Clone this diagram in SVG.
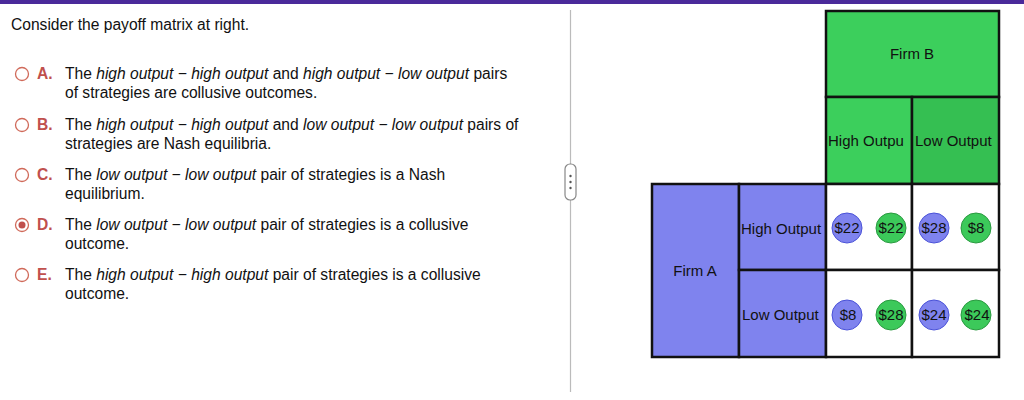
<svg xmlns="http://www.w3.org/2000/svg" width="1024" height="400" viewBox="0 0 1024 400">
<style>
text{font-family:"Liberation Sans",Arial,sans-serif;font-size:15.6px;fill:#111}
.m{font-size:15px}
.l{fill:#c0504d;font-weight:bold}
.rb{fill:#fff;stroke:#d06a5a;stroke-width:1.3}
.box{stroke:#111;stroke-width:2.5}
.pb{fill:#7f83ee;stroke:#4a52d8;stroke-width:1}
.pg{fill:#3cc95a;stroke:#2a9a40;stroke-width:1}
.c{text-anchor:middle}
</style>
<rect x="0" y="0" width="1024" height="4" fill="#4a2a9a"/>
<line x1="570.5" y1="10" x2="570.5" y2="392" stroke="#bbb" stroke-width="1.2"/>
<rect x="565" y="164" width="11" height="36" rx="5" fill="#fff" stroke="#888" stroke-width="1.2"/>
<circle cx="570.5" cy="176" r="1.2" fill="#555"/><circle cx="570.5" cy="182" r="1.2" fill="#555"/><circle cx="570.5" cy="188" r="1.2" fill="#555"/>
<g id="question">
<text x="11" y="30">Consider the payoff matrix at right.</text>
<circle class="rb" cx="22" cy="74" r="6.5"/><text class="l" x="37" y="79">A.</text>
<text x="65" y="79">The <tspan font-style="italic">high output − high output</tspan> and <tspan font-style="italic">high output − low output</tspan> pairs</text>
<text x="65" y="98">of strategies are collusive outcomes.</text>
<circle class="rb" cx="22" cy="125" r="6.5"/><text class="l" x="37" y="130">B.</text>
<text x="65" y="130">The <tspan font-style="italic">high output − high output</tspan> and <tspan font-style="italic">low output − low output</tspan> pairs of</text>
<text x="65" y="149">strategies are Nash equilibria.</text>
<circle class="rb" cx="22" cy="175" r="6.5"/><text class="l" x="37" y="180">C.</text>
<text x="65" y="180">The <tspan font-style="italic">low output − low output</tspan> pair of strategies is a Nash</text>
<text x="65" y="199">equilibrium.</text>
<circle class="rb" cx="22" cy="225" r="6.5"/><circle cx="22" cy="225" r="3.5" fill="#c0504d"/><text class="l" x="37" y="230">D.</text>
<text x="65" y="230">The <tspan font-style="italic">low output − low output</tspan> pair of strategies is a collusive</text>
<text x="65" y="249">outcome.</text>
<circle class="rb" cx="22" cy="275" r="6.5"/><text class="l" x="37" y="280">E.</text>
<text x="65" y="280">The <tspan font-style="italic">high output − high output</tspan> pair of strategies is a collusive</text>
<text x="65" y="299">outcome.</text>
</g>
<g id="firmB"><rect class="box" x="826" y="11" width="173" height="86" fill="#3ccf5c"/><text class="c m" x="912" y="59">Firm B</text></g>
<g id="bHigh"><rect class="box" x="826" y="97" width="86" height="87" fill="#3ccf5c"/><text class="m" x="828" y="146">High Outpu</text></g>
<g id="bLow"><rect class="box" x="912" y="97" width="87" height="87" fill="#35bf52"/><text class="m" x="915" y="146">Low Output</text></g>
<g id="firmA"><rect class="box" x="652" y="184" width="87" height="173" fill="#7f83ee"/><text class="c m" x="695" y="276">Firm A</text></g>
<g id="aHigh"><rect class="box" x="739" y="184" width="87" height="86" fill="#7f83ee"/><text class="m" x="741" y="234">High Output</text></g>
<g id="aLow"><rect class="box" x="739" y="270" width="87" height="87" fill="#7f83ee"/><text class="m" x="742" y="320">Low Output</text></g>
<g id="cellHH"><rect class="box" x="826" y="184" width="86" height="86" fill="#fff"/>
<circle class="pb" cx="847" cy="228" r="15"/><text class="c m" x="847" y="233">$22</text>
<circle class="pg" cx="891" cy="228" r="15"/><text class="c m" x="891" y="233">$22</text></g>
<g id="cellHL"><rect class="box" x="912" y="184" width="87" height="86" fill="#fff"/>
<circle class="pb" cx="934" cy="228" r="15"/><text class="c m" x="934" y="233">$28</text>
<circle class="pg" cx="976" cy="228" r="15"/><text class="c m" x="976" y="233">$8</text></g>
<g id="cellLH"><rect class="box" x="826" y="270" width="86" height="87" fill="#fff"/>
<circle class="pb" cx="847" cy="315" r="15"/><text class="c m" x="848" y="320">$8</text>
<circle class="pg" cx="891" cy="315" r="15" fill="#2fb04a"/><text class="c m" x="891" y="320">$28</text></g>
<g id="cellLL"><rect class="box" x="912" y="270" width="87" height="87" fill="#fff"/>
<circle class="pb" cx="934" cy="315" r="15"/><text class="c m" x="934" y="320">$24</text>
<circle class="pg" cx="976" cy="315" r="15"/><text class="c m" x="977" y="320">$24</text></g>
<g id="connectors"/>
</svg>
